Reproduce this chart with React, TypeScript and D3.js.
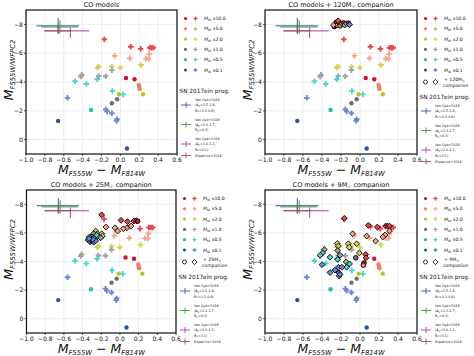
import React from "react";
import * as d3 from "d3";

const xTicks = [-1.0, -0.8, -0.6, -0.4, -0.2, 0.0, 0.2, 0.4, 0.6];
const yTicks = [-8, -6, -4, -2, 0];
const niLabels = ["x10.0", "x5.0", "x2.0", "x1.0", "x0.5", "x0.1"];
const dotColors = ["#d0102c", "#f0825f", "#c2c21e", "#6e6e6e", "#1ec0b0", "#2f4fa8"];
const plusColors = ["#e8444c", "#f6a288", "#d4d452", "#a0a0a0", "#48d6cc", "#6a86d6"];

const titles = ["CO models", "CO models + 120M", "CO models + 25M", "CO models + 9M"];
const companionMass = ["", "120", "25", "9"];

// [group, M_F555W-M_F814W, M_F555W]
const dotPoints: number[][] = [
  [0, 0.06, -4.28], [0, 0.15, -4.19],
  [1, 0.195, -3.8], [1, 0.2, -3.65], [1, 0.205, -3.52],
  [2, -0.015, -3.15], [2, 0.24, -3.15],
  [3, -0.09, -2.52], [3, -0.035, -2.8],
  [4, -0.31, -2.06],
  [5, -0.66, -1.3], [5, 0.07, 0.62],
];

const plusPoints: number[][] = [
  [0, -0.17, -6.96], [0, 0.11, -6.45], [0, 0.215, -6.3], [0, 0.31, -6.38], [0, 0.33, -6.38], [0, 0.35, -6.38],
  [1, -0.06, -5.81], [1, 0.1, -5.64], [1, 0.305, -5.94], [1, 0.27, -5.62], [1, 0.3, -5.62],
  [2, -0.245, -5.0], [2, -0.23, -5.07], [2, -0.09, -5.06], [2, 0.0, -4.99], [2, 0.22, -5.18],
  [3, -0.41, -4.5], [3, -0.42, -4.38], [3, -0.23, -4.42], [3, -0.155, -4.4], [3, -0.09, -4.82],
  [4, -0.48, -4.05], [4, -0.36, -3.86], [4, -0.245, -4.19], [4, -0.085, -3.38], [4, 0.03, -3.14],
  [5, -0.56, -2.9], [5, -0.155, -2.1], [5, -0.14, -1.96], [5, -0.09, -1.83], [5, -0.035, -1.42], [5, -0.04, -1.3],
];

// [group, x, y, shape (0 circle, 1 diamond)]
const comp120: number[][] = [
  [0, -0.27, -7.85, 0], [1, -0.26, -8.0, 1], [0, -0.25, -8.15, 0], [2, -0.24, -7.95, 1],
  [0, -0.22, -8.1, 1], [1, -0.21, -7.9, 0], [3, -0.19, -8.05, 1], [0, -0.17, -8.1, 0],
  [4, -0.16, -7.95, 1], [1, -0.14, -8.05, 1], [0, -0.12, -8.08, 0], [5, -0.11, -7.98, 1],
  [0, -0.23, -8.25, 1], [1, -0.28, -7.95, 1],
];

const comp25: number[][] = [
  [0, -0.195, -7.26, 1], [0, 0.012, -6.88, 1], [0, 0.08, -6.79, 1], [0, 0.15, -6.83, 1], [0, 0.175, -6.85, 1], [0, 0.19, -6.82, 0],
  [1, -0.15, -6.41, 1], [1, -0.053, -6.36, 1], [1, 0.119, -6.48, 1], [1, 0.073, -6.35, 1], [1, 0.037, -6.29, 1], [1, -0.024, -6.13, 1],
  [2, -0.26, -6.13, 1], [2, -0.24, -5.94, 1], [2, -0.195, -5.94, 1], [2, -0.188, -5.78, 1],
  [3, -0.206, -5.66, 1], [3, -0.28, -5.95, 1], [3, -0.3, -5.75, 0],
  [4, -0.33, -5.7, 1], [4, -0.31, -5.5, 1], [4, -0.27, -5.6, 1], [4, -0.25, -5.85, 1],
  [5, -0.34, -5.5, 1], [5, -0.32, -5.38, 1], [5, -0.3, -5.42, 0], [5, -0.28, -5.35, 1], [5, -0.26, -5.45, 1], [5, -0.29, -5.55, 1], [5, -0.33, -5.6, 1],
];

const comp9: number[][] = [
  [0, -0.165, -7.02, 1], [0, 0.087, -6.53, 1], [0, 0.182, -6.41, 1], [0, 0.27, -6.48, 1], [0, 0.29, -6.48, 1], [0, 0.31, -6.48, 1],
  [0, 0.06, -4.49, 1], [0, 0.063, -4.26, 1], [0, 0.042, -3.9, 0],
  [1, -0.077, -5.94, 1], [1, 0.07, -5.78, 1], [1, 0.263, -5.85, 1], [1, 0.24, -5.71, 1], [1, 0.31, -6.13, 1], [1, 0.165, -5.43, 1], [1, 0.035, -3.74, 0],
  [2, -0.239, -5.26, 1], [2, -0.228, -5.08, 1], [2, -0.123, -5.24, 1], [2, -0.113, -5.0, 1], [2, -0.035, -5.24, 1], [2, -0.007, -4.6, 1],
  [3, -0.376, -4.84, 1], [3, -0.393, -4.6, 1], [3, -0.235, -4.77, 1], [3, -0.21, -4.44, 1], [3, -0.147, -3.98, 1], [3, -0.045, -4.26, 0],
  [4, -0.42, -4.44, 1], [4, -0.316, -4.3, 1], [4, -0.235, -4.14, 1], [4, -0.11, -3.83, 1], [4, -0.14, -3.6, 1],
  [5, -0.4, -3.78, 1], [5, -0.316, -3.23, 1], [5, -0.263, -3.4, 1], [5, -0.22, -3.2, 1], [5, -0.22, -3.0, 1],
  [5, -0.228, -3.6, 1], [5, -0.19, -3.6, 1], [5, -0.21, -3.1, 1],
];

const companions = [[], comp120, comp25, comp9];

// progenitor estimates
const progNames = ["Van Dyk+2018", "Van Dyk+2018", "Van Dyk+2018", "Kilpatrick+2018"];
const progAv = ["1.5-1.8", "1.3-1.7", "1.0-1.2", ""];
const progRv = ["3.3-6.8", "4.3", "3.1", ""];
const progColors = ["#3a56a8", "#3c9a3c", "#b03cb0", "#a0505a"];
const progX = [-0.66, -0.64, -0.53, -0.66];
const progXlo = [-0.89, -0.84, -0.81, -0.8];
const progXhi = [-0.44, -0.45, -0.33, -0.52];
const progY = [-7.9, -7.82, -7.55, -7.55];
const progYlo = [-8.45, -8.28, -7.78, -7.95];
const progYhi = [-7.35, -7.36, -7.05, -7.35];

const panels = [
  { left: 26, right: 177, top: 10, bottom: 154 },
  { left: 265, right: 417, top: 10, bottom: 154 },
  { left: 26.5, right: 176, top: 190, bottom: 333 },
  { left: 265, right: 417, top: 190, bottom: 333 },
];

const FONT = "DejaVu Sans, sans-serif";
const plusPath = d3.symbol(d3.symbolCross, 17)() as string;
const diamond = (s: number) => `M0,${-s}L${s},0L0,${s}L${-s},0Z`;
const fmt = (v: number) => (v < 0 ? "\u2212" : "") + Math.abs(v).toFixed(1);
const fmtI = (v: number) => (v < 0 ? "\u2212" : "") + Math.abs(v).toFixed(0);

function Panel({ i }: { i: number }) {
  const p = panels[i];
  const x = d3.scaleLinear().domain([-1.0, 0.6]).range([p.left, p.right]);
  const y = d3.scaleLinear().domain([1, -9]).range([p.bottom, p.top]);
  const cx = (p.left + p.right) / 2;
  const cy = (p.top + p.bottom) / 2;
  const hasComp = i > 0;
  const lDot = p.right + 8.5;
  const lPlus = p.right + 18.5;
  const lText = p.right + 27;
  const sb = hasComp ? p.top + 89 : p.top + 83;
  const comp = companions[i];
  return (
    <g fontFamily={FONT}>
      <rect x={p.left} y={p.top} width={p.right - p.left} height={p.bottom - p.top} fill="#fff" />
      {xTicks.map((t) => (
        <line key={"gx" + t} x1={x(t)} x2={x(t)} y1={p.top} y2={p.bottom} stroke="#e6e6e6" strokeWidth={0.7} />
      ))}
      {yTicks.map((t) => (
        <line key={"gy" + t} x1={p.left} x2={p.right} y1={y(t)} y2={y(t)} stroke="#e6e6e6" strokeWidth={0.7} />
      ))}
      {progNames.map((n, k) => (
        <g key={"eb" + k} stroke={progColors[k]} strokeWidth={1}>
          <line x1={x(progXlo[k])} x2={x(progXhi[k])} y1={y(progY[k])} y2={y(progY[k])} />
          <line x1={x(progX[k])} x2={x(progX[k])} y1={y(progYlo[k])} y2={y(progYhi[k])} />
        </g>
      ))}
      {dotPoints.map((d, k) => (
        <circle key={"d" + k} cx={x(d[1])} cy={y(d[2])} r={2.2} fill={dotColors[d[0]]} />
      ))}
      {plusPoints.map((d, k) => (
        <path key={"p" + k} d={plusPath} transform={`translate(${x(d[1])},${y(d[2])})`} fill={plusColors[d[0]]} />
      ))}
      {comp.map((d, k) =>
        d[3] === 1 ? (
          <path key={"c" + k} d={diamond(2.9)} transform={`translate(${x(d[1])},${y(d[2])})`}
            fill={plusColors[d[0]]} stroke="#000" strokeWidth={0.9} />
        ) : (
          <circle key={"c" + k} cx={x(d[1])} cy={y(d[2])} r={2.3} fill={dotColors[d[0]]} stroke="#000" strokeWidth={0.9} />
        )
      )}
      <rect x={p.left} y={p.top} width={p.right - p.left} height={p.bottom - p.top} fill="none" stroke="#111" strokeWidth={1.2} />
      {xTicks.map((t) => (
        <g key={"tx" + t}>
          <line x1={x(t)} x2={x(t)} y1={p.bottom} y2={p.bottom + 2} stroke="#111" strokeWidth={0.7} />
          <text x={x(t)} y={p.bottom + 8} fontSize={6.1} textAnchor="middle" fill="#111">{fmt(t)}</text>
        </g>
      ))}
      {yTicks.map((t) => (
        <g key={"ty" + t}>
          <line x1={p.left - 2} x2={p.left} y1={y(t)} y2={y(t)} stroke="#111" strokeWidth={0.7} />
          <text x={p.left - 3} y={y(t) + 2.2} fontSize={6.1} textAnchor="end" fill="#111">{fmtI(t)}</text>
        </g>
      ))}
      <text x={cx} y={p.top - 3.5} fontSize={6.5} textAnchor="middle" fill="#111">
        {titles[i]}
        {hasComp ? <tspan fontSize={4.5} dy={1.5}>{"\u2609"}</tspan> : null}
        {hasComp ? <tspan dy={-1.5}>{" companion"}</tspan> : null}
      </text>
      <text x={cx} y={p.bottom + 19.5} fontSize={12.5} textAnchor="middle" fill="#111" fontStyle="italic">
        <tspan>M</tspan>
        <tspan fontSize={6.8} dy={2.5}>F555W</tspan>
        <tspan dy={-2.5} fontStyle="normal">{" \u2212 "}</tspan>
        <tspan>M</tspan>
        <tspan fontSize={6.8} dy={2.5}>F814W</tspan>
      </text>
      <text transform={`translate(${p.left - 13.5},${cy - 12}) rotate(-90)`} fontSize={12.5} textAnchor="middle"
        fill="#111" fontStyle="italic">
        <tspan>M</tspan>
        <tspan fontSize={6.8} dy={2}>F555W/WFPC2</tspan>
      </text>
      {niLabels.map((lab, k) => {
        const ry = p.top + 8.5 + k * 10.3;
        return (
          <g key={"lg" + k}>
            <circle cx={lDot} cy={ry} r={1.6} fill={dotColors[k]} />
            <path d={d3.symbol(d3.symbolCross, 9)() as string} transform={`translate(${lPlus},${ry})`} fill={plusColors[k]} />
            <text x={lText} y={ry + 1.6} fontSize={4.6} fill="#111">
              <tspan fontStyle="italic">M</tspan>
              <tspan fontSize={3.2} dy={1}>Ni</tspan>
              <tspan dy={-1}>{" " + lab}</tspan>
            </text>
          </g>
        );
      })}
      {hasComp ? (
        <g>
          <circle cx={lDot} cy={p.top + 72} r={2} fill="#fff" stroke="#000" strokeWidth={0.8} />
          <path d={diamond(2.6)} transform={`translate(${lPlus},${p.top + 72})`} fill="#fff" stroke="#000" strokeWidth={0.8} />
          <text x={lText} y={p.top + 71} fontSize={4.6} fill="#111">
            {"+ " + companionMass[i] + "M"}
            <tspan fontSize={3.2} dy={1}>{"\u2609"}</tspan>
          </text>
          <text x={lText - 1} y={p.top + 76.5} fontSize={4.6} fill="#111">companion</text>
        </g>
      ) : null}
      <text x={p.right + 2.5} y={sb} fontSize={5.8} fill="#111">SN 2017ein prog.</text>
      {progNames.map((n, k) => {
        const last = k === 3;
        const by = last ? sb + 64 : sb + k * 19.5;
        const my = last ? by - 1.5 : by + 12;
        const mx = p.right + 9;
        return (
          <g key={"pl" + k}>
            <g stroke={progColors[k]} strokeWidth={0.9}>
              <line x1={mx - 5} x2={mx + 5} y1={my} y2={my} />
              <line x1={mx} x2={mx} y1={my - 3} y2={my + 3} />
            </g>
            {last ? (
              <text x={p.right + 18} y={by} fontSize={3.3} fill="#111">{n}</text>
            ) : (
              <g>
                <text x={p.right + 18} y={by + 8} fontSize={3.3} fill="#111">{n}</text>
                <text x={p.right + 18} y={by + 13.3} fontSize={3.3} fill="#111">
                  {"(A"}
                  <tspan fontSize={2.4} dy={0.7}>V</tspan>
                  <tspan dy={-0.7}>{"=" + progAv[k] + ","}</tspan>
                </text>
                <text x={p.right + 18} y={by + 18.6} fontSize={3.3} fill="#111">
                  {"R"}
                  <tspan fontSize={2.4} dy={0.7}>V</tspan>
                  <tspan dy={-0.7}>{"=" + progRv[k] + ")"}</tspan>
                </text>
              </g>
            )}
          </g>
        );
      })}
    </g>
  );
}

export default function App() {
  return (
    <svg width={474} height={356} style={{ position: "absolute", left: 0, top: 0, background: "#fff" }}>
      <rect x={0} y={0} width={474} height={356} fill="#fff" />
      {panels.map((_, i) => (
        <Panel key={i} i={i} />
      ))}
    </svg>
  );
}
